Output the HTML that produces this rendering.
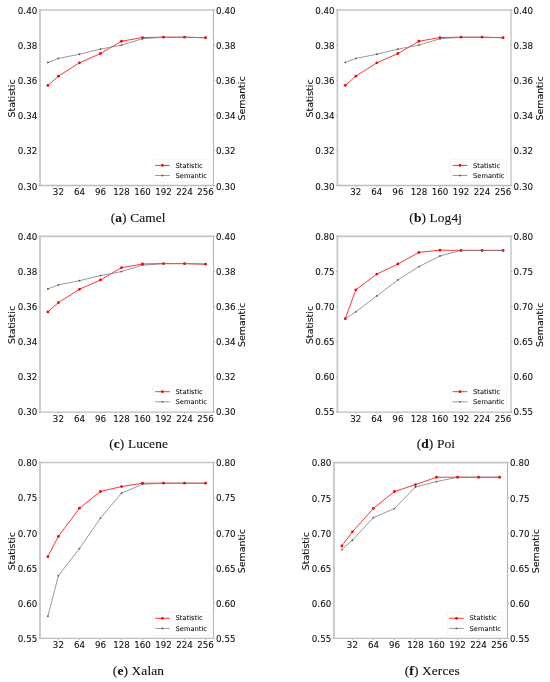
<!DOCTYPE html>
<html><head><meta charset="utf-8"><style>
html,body{margin:0;padding:0;background:#fff;}
body{width:550px;height:682px;overflow:hidden;}
svg{display:block;filter:blur(0.3px);}
.spl{stroke:#c8c8c8;stroke-width:1.8;}
.spr{stroke:#b6b6b6;stroke-width:1.1;}
.spt{stroke:#c4c4c4;stroke-width:1.6;}
.spb{stroke:#bdbdbd;stroke-width:1.4;}
.tk{stroke:#555;stroke-width:0.6;}
.tl{font-family:"DejaVu Sans","Liberation Sans",sans-serif;font-size:8.7px;fill:#111;stroke:#111;stroke-width:0.1;}
.yl{font-family:"DejaVu Sans","Liberation Sans",sans-serif;font-size:9.4px;fill:#111;stroke:#111;stroke-width:0.1;}
.lt{font-family:"DejaVu Sans","Liberation Sans",sans-serif;font-size:6.7px;fill:#111;stroke:#111;stroke-width:0.08;}
.cp{font-family:"Liberation Serif",serif;font-size:13.4px;letter-spacing:0.12px;fill:#111;stroke:#111;stroke-width:0.12;}
.rl{fill:none;stroke:#ff0000;stroke-width:0.8;stroke-linejoin:round;}
.gl{fill:none;stroke:#7f7f7f;stroke-width:0.8;stroke-linejoin:round;}
.rm{fill:#ff0000;}
.gm{fill:#555;}
.lg{fill:#fff;fill-opacity:0.8;stroke:#f0f0f0;stroke-width:0.7;}
</style></head><body>
<svg width="550" height="682" viewBox="0 0 550 682">
<line x1="38.7" y1="185.5" x2="40" y2="185.5" class="tk"/>
<line x1="213.5" y1="185.5" x2="214.8" y2="185.5" class="tk"/>
<line x1="38.7" y1="150.4" x2="40" y2="150.4" class="tk"/>
<line x1="213.5" y1="150.4" x2="214.8" y2="150.4" class="tk"/>
<line x1="38.7" y1="115.3" x2="40" y2="115.3" class="tk"/>
<line x1="213.5" y1="115.3" x2="214.8" y2="115.3" class="tk"/>
<line x1="38.7" y1="80.2" x2="40" y2="80.2" class="tk"/>
<line x1="213.5" y1="80.2" x2="214.8" y2="80.2" class="tk"/>
<line x1="38.7" y1="45.1" x2="40" y2="45.1" class="tk"/>
<line x1="213.5" y1="45.1" x2="214.8" y2="45.1" class="tk"/>
<line x1="38.7" y1="10" x2="40" y2="10" class="tk"/>
<line x1="213.5" y1="10" x2="214.8" y2="10" class="tk"/>
<line x1="58.4" y1="185.5" x2="58.4" y2="186.8" class="tk"/>
<line x1="79.43" y1="185.5" x2="79.43" y2="186.8" class="tk"/>
<line x1="100.46" y1="185.5" x2="100.46" y2="186.8" class="tk"/>
<line x1="121.49" y1="185.5" x2="121.49" y2="186.8" class="tk"/>
<line x1="142.52" y1="185.5" x2="142.52" y2="186.8" class="tk"/>
<line x1="163.55" y1="185.5" x2="163.55" y2="186.8" class="tk"/>
<line x1="184.58" y1="185.5" x2="184.58" y2="186.8" class="tk"/>
<line x1="205.61" y1="185.5" x2="205.61" y2="186.8" class="tk"/>
<line x1="40" y1="9.2" x2="40" y2="186.1" class="spl"/>
<line x1="213.5" y1="9.2" x2="213.5" y2="186.1" class="spr"/>
<line x1="39.1" y1="10" x2="214.05" y2="10" class="spt"/>
<line x1="39.1" y1="185.5" x2="214.05" y2="185.5" class="spb"/>
<text x="37.2" y="189.5" class="tl" text-anchor="end">0.30</text>
<text x="216.1" y="189.5" class="tl">0.30</text>
<text x="37.2" y="154.4" class="tl" text-anchor="end">0.32</text>
<text x="216.1" y="154.4" class="tl">0.32</text>
<text x="37.2" y="119.3" class="tl" text-anchor="end">0.34</text>
<text x="216.1" y="119.3" class="tl">0.34</text>
<text x="37.2" y="84.2" class="tl" text-anchor="end">0.36</text>
<text x="216.1" y="84.2" class="tl">0.36</text>
<text x="37.2" y="49.1" class="tl" text-anchor="end">0.38</text>
<text x="216.1" y="49.1" class="tl">0.38</text>
<text x="37.2" y="14" class="tl" text-anchor="end">0.40</text>
<text x="216.1" y="14" class="tl">0.40</text>
<text x="58.4" y="195.2" class="tl" text-anchor="middle">32</text>
<text x="79.43" y="195.2" class="tl" text-anchor="middle">64</text>
<text x="100.46" y="195.2" class="tl" text-anchor="middle">96</text>
<text x="121.49" y="195.2" class="tl" text-anchor="middle">128</text>
<text x="142.52" y="195.2" class="tl" text-anchor="middle">160</text>
<text x="163.55" y="195.2" class="tl" text-anchor="middle">192</text>
<text x="184.58" y="195.2" class="tl" text-anchor="middle">224</text>
<text x="205.61" y="195.2" class="tl" text-anchor="middle">256</text>
<text transform="translate(15.3,98.45) rotate(-90)" class="yl" text-anchor="middle">Statistic</text>
<text transform="translate(245.4,98.45) rotate(-90)" class="yl" text-anchor="middle">Semantic</text>
<polyline points="47.89,85.47 58.4,76.16 79.43,62.83 100.46,53.52 121.49,41.24 142.52,37.55 163.55,37.2 184.58,37.2 205.61,37.73" class="rl"/>
<polyline points="47.89,62.47 58.4,58.44 79.43,54.23 100.46,49.14 121.49,45.1 142.52,38.78 163.55,37.2 184.58,37.2 205.61,37.73" class="gl"/>
<circle cx="47.89" cy="85.47" r="1.4" class="rm"/>
<circle cx="58.4" cy="76.16" r="1.4" class="rm"/>
<circle cx="79.43" cy="62.83" r="1.4" class="rm"/>
<circle cx="100.46" cy="53.52" r="1.4" class="rm"/>
<circle cx="121.49" cy="41.24" r="1.4" class="rm"/>
<circle cx="142.52" cy="37.55" r="1.4" class="rm"/>
<circle cx="163.55" cy="37.2" r="1.4" class="rm"/>
<circle cx="184.58" cy="37.2" r="1.4" class="rm"/>
<circle cx="205.61" cy="37.73" r="1.4" class="rm"/>
<circle cx="47.89" cy="62.47" r="0.9" class="gm"/>
<circle cx="58.4" cy="58.44" r="0.9" class="gm"/>
<circle cx="79.43" cy="54.23" r="0.9" class="gm"/>
<circle cx="100.46" cy="49.14" r="0.9" class="gm"/>
<circle cx="121.49" cy="45.1" r="0.9" class="gm"/>
<circle cx="142.52" cy="38.78" r="0.9" class="gm"/>
<circle cx="163.55" cy="37.2" r="0.9" class="gm"/>
<circle cx="184.58" cy="37.2" r="0.9" class="gm"/>
<circle cx="205.61" cy="37.73" r="0.9" class="gm"/>
<rect x="153.2" y="159.5" width="55.7" height="23.2" rx="1.2" class="lg"/>
<line x1="155.1" y1="165.4" x2="169.8" y2="165.4" class="rl"/>
<circle cx="162.45" cy="165.4" r="1.4" class="rm"/>
<line x1="155.1" y1="175.5" x2="169.8" y2="175.5" class="gl"/>
<circle cx="162.45" cy="175.5" r="0.9" class="gm"/>
<text x="175.6" y="167.5" class="lt">Statistic</text>
<text x="175.6" y="177.6" class="lt">Semantic</text>
<text x="138.2" y="221.8" class="cp" text-anchor="middle">(<tspan font-weight="bold">a</tspan>) Camel</text>
<line x1="336.1" y1="185.5" x2="337.4" y2="185.5" class="tk"/>
<line x1="511" y1="185.5" x2="512.3" y2="185.5" class="tk"/>
<line x1="336.1" y1="150.4" x2="337.4" y2="150.4" class="tk"/>
<line x1="511" y1="150.4" x2="512.3" y2="150.4" class="tk"/>
<line x1="336.1" y1="115.3" x2="337.4" y2="115.3" class="tk"/>
<line x1="511" y1="115.3" x2="512.3" y2="115.3" class="tk"/>
<line x1="336.1" y1="80.2" x2="337.4" y2="80.2" class="tk"/>
<line x1="511" y1="80.2" x2="512.3" y2="80.2" class="tk"/>
<line x1="336.1" y1="45.1" x2="337.4" y2="45.1" class="tk"/>
<line x1="511" y1="45.1" x2="512.3" y2="45.1" class="tk"/>
<line x1="336.1" y1="10" x2="337.4" y2="10" class="tk"/>
<line x1="511" y1="10" x2="512.3" y2="10" class="tk"/>
<line x1="355.81" y1="185.5" x2="355.81" y2="186.8" class="tk"/>
<line x1="376.85" y1="185.5" x2="376.85" y2="186.8" class="tk"/>
<line x1="397.9" y1="185.5" x2="397.9" y2="186.8" class="tk"/>
<line x1="418.94" y1="185.5" x2="418.94" y2="186.8" class="tk"/>
<line x1="439.98" y1="185.5" x2="439.98" y2="186.8" class="tk"/>
<line x1="461.02" y1="185.5" x2="461.02" y2="186.8" class="tk"/>
<line x1="482.07" y1="185.5" x2="482.07" y2="186.8" class="tk"/>
<line x1="503.11" y1="185.5" x2="503.11" y2="186.8" class="tk"/>
<line x1="337.4" y1="9.2" x2="337.4" y2="186.1" class="spl"/>
<line x1="511" y1="9.2" x2="511" y2="186.1" class="spr"/>
<line x1="336.5" y1="10" x2="511.55" y2="10" class="spt"/>
<line x1="336.5" y1="185.5" x2="511.55" y2="185.5" class="spb"/>
<text x="334.6" y="189.5" class="tl" text-anchor="end">0.30</text>
<text x="513.6" y="189.5" class="tl">0.30</text>
<text x="334.6" y="154.4" class="tl" text-anchor="end">0.32</text>
<text x="513.6" y="154.4" class="tl">0.32</text>
<text x="334.6" y="119.3" class="tl" text-anchor="end">0.34</text>
<text x="513.6" y="119.3" class="tl">0.34</text>
<text x="334.6" y="84.2" class="tl" text-anchor="end">0.36</text>
<text x="513.6" y="84.2" class="tl">0.36</text>
<text x="334.6" y="49.1" class="tl" text-anchor="end">0.38</text>
<text x="513.6" y="49.1" class="tl">0.38</text>
<text x="334.6" y="14" class="tl" text-anchor="end">0.40</text>
<text x="513.6" y="14" class="tl">0.40</text>
<text x="355.81" y="195.2" class="tl" text-anchor="middle">32</text>
<text x="376.85" y="195.2" class="tl" text-anchor="middle">64</text>
<text x="397.9" y="195.2" class="tl" text-anchor="middle">96</text>
<text x="418.94" y="195.2" class="tl" text-anchor="middle">128</text>
<text x="439.98" y="195.2" class="tl" text-anchor="middle">160</text>
<text x="461.02" y="195.2" class="tl" text-anchor="middle">192</text>
<text x="482.07" y="195.2" class="tl" text-anchor="middle">224</text>
<text x="503.11" y="195.2" class="tl" text-anchor="middle">256</text>
<text transform="translate(312.7,98.45) rotate(-90)" class="yl" text-anchor="middle">Statistic</text>
<text transform="translate(542.9,98.45) rotate(-90)" class="yl" text-anchor="middle">Semantic</text>
<polyline points="345.29,85.47 355.81,76.16 376.85,62.83 397.9,53.52 418.94,41.24 439.98,37.55 461.02,37.2 482.07,37.2 503.11,37.73" class="rl"/>
<polyline points="345.29,62.47 355.81,58.44 376.85,54.23 397.9,49.14 418.94,45.1 439.98,38.78 461.02,37.2 482.07,37.2 503.11,37.73" class="gl"/>
<circle cx="345.29" cy="85.47" r="1.4" class="rm"/>
<circle cx="355.81" cy="76.16" r="1.4" class="rm"/>
<circle cx="376.85" cy="62.83" r="1.4" class="rm"/>
<circle cx="397.9" cy="53.52" r="1.4" class="rm"/>
<circle cx="418.94" cy="41.24" r="1.4" class="rm"/>
<circle cx="439.98" cy="37.55" r="1.4" class="rm"/>
<circle cx="461.02" cy="37.2" r="1.4" class="rm"/>
<circle cx="482.07" cy="37.2" r="1.4" class="rm"/>
<circle cx="503.11" cy="37.73" r="1.4" class="rm"/>
<circle cx="345.29" cy="62.47" r="0.9" class="gm"/>
<circle cx="355.81" cy="58.44" r="0.9" class="gm"/>
<circle cx="376.85" cy="54.23" r="0.9" class="gm"/>
<circle cx="397.9" cy="49.14" r="0.9" class="gm"/>
<circle cx="418.94" cy="45.1" r="0.9" class="gm"/>
<circle cx="439.98" cy="38.78" r="0.9" class="gm"/>
<circle cx="461.02" cy="37.2" r="0.9" class="gm"/>
<circle cx="482.07" cy="37.2" r="0.9" class="gm"/>
<circle cx="503.11" cy="37.73" r="0.9" class="gm"/>
<rect x="450.7" y="159.5" width="55.7" height="23.2" rx="1.2" class="lg"/>
<line x1="452.6" y1="165.4" x2="467.3" y2="165.4" class="rl"/>
<circle cx="459.95" cy="165.4" r="1.4" class="rm"/>
<line x1="452.6" y1="175.5" x2="467.3" y2="175.5" class="gl"/>
<circle cx="459.95" cy="175.5" r="0.9" class="gm"/>
<text x="473.1" y="167.5" class="lt">Statistic</text>
<text x="473.1" y="177.6" class="lt">Semantic</text>
<text x="435.7" y="221.8" class="cp" text-anchor="middle">(<tspan font-weight="bold">b</tspan>) Log4j</text>
<line x1="38.7" y1="412.1" x2="40" y2="412.1" class="tk"/>
<line x1="213.5" y1="412.1" x2="214.8" y2="412.1" class="tk"/>
<line x1="38.7" y1="376.96" x2="40" y2="376.96" class="tk"/>
<line x1="213.5" y1="376.96" x2="214.8" y2="376.96" class="tk"/>
<line x1="38.7" y1="341.82" x2="40" y2="341.82" class="tk"/>
<line x1="213.5" y1="341.82" x2="214.8" y2="341.82" class="tk"/>
<line x1="38.7" y1="306.68" x2="40" y2="306.68" class="tk"/>
<line x1="213.5" y1="306.68" x2="214.8" y2="306.68" class="tk"/>
<line x1="38.7" y1="271.54" x2="40" y2="271.54" class="tk"/>
<line x1="213.5" y1="271.54" x2="214.8" y2="271.54" class="tk"/>
<line x1="38.7" y1="236.4" x2="40" y2="236.4" class="tk"/>
<line x1="213.5" y1="236.4" x2="214.8" y2="236.4" class="tk"/>
<line x1="58.4" y1="412.1" x2="58.4" y2="413.4" class="tk"/>
<line x1="79.43" y1="412.1" x2="79.43" y2="413.4" class="tk"/>
<line x1="100.46" y1="412.1" x2="100.46" y2="413.4" class="tk"/>
<line x1="121.49" y1="412.1" x2="121.49" y2="413.4" class="tk"/>
<line x1="142.52" y1="412.1" x2="142.52" y2="413.4" class="tk"/>
<line x1="163.55" y1="412.1" x2="163.55" y2="413.4" class="tk"/>
<line x1="184.58" y1="412.1" x2="184.58" y2="413.4" class="tk"/>
<line x1="205.61" y1="412.1" x2="205.61" y2="413.4" class="tk"/>
<line x1="40" y1="235.6" x2="40" y2="412.7" class="spl"/>
<line x1="213.5" y1="235.6" x2="213.5" y2="412.7" class="spr"/>
<line x1="39.1" y1="236.4" x2="214.05" y2="236.4" class="spt"/>
<line x1="39.1" y1="412.1" x2="214.05" y2="412.1" class="spb"/>
<text x="37.2" y="415.3" class="tl" text-anchor="end">0.30</text>
<text x="216.1" y="415.3" class="tl">0.30</text>
<text x="37.2" y="380.16" class="tl" text-anchor="end">0.32</text>
<text x="216.1" y="380.16" class="tl">0.32</text>
<text x="37.2" y="345.02" class="tl" text-anchor="end">0.34</text>
<text x="216.1" y="345.02" class="tl">0.34</text>
<text x="37.2" y="309.88" class="tl" text-anchor="end">0.36</text>
<text x="216.1" y="309.88" class="tl">0.36</text>
<text x="37.2" y="274.74" class="tl" text-anchor="end">0.38</text>
<text x="216.1" y="274.74" class="tl">0.38</text>
<text x="37.2" y="239.6" class="tl" text-anchor="end">0.40</text>
<text x="216.1" y="239.6" class="tl">0.40</text>
<text x="58.4" y="421.8" class="tl" text-anchor="middle">32</text>
<text x="79.43" y="421.8" class="tl" text-anchor="middle">64</text>
<text x="100.46" y="421.8" class="tl" text-anchor="middle">96</text>
<text x="121.49" y="421.8" class="tl" text-anchor="middle">128</text>
<text x="142.52" y="421.8" class="tl" text-anchor="middle">160</text>
<text x="163.55" y="421.8" class="tl" text-anchor="middle">192</text>
<text x="184.58" y="421.8" class="tl" text-anchor="middle">224</text>
<text x="205.61" y="421.8" class="tl" text-anchor="middle">256</text>
<text transform="translate(15.3,324.95) rotate(-90)" class="yl" text-anchor="middle">Statistic</text>
<text transform="translate(245.4,324.95) rotate(-90)" class="yl" text-anchor="middle">Semantic</text>
<polyline points="47.89,311.95 58.4,302.64 79.43,289.29 100.46,279.97 121.49,267.67 142.52,263.98 163.55,263.63 184.58,263.63 205.61,264.16" class="rl"/>
<polyline points="47.89,288.93 58.4,284.89 79.43,280.68 100.46,275.58 121.49,271.54 142.52,265.21 163.55,263.63 184.58,263.63 205.61,264.16" class="gl"/>
<circle cx="47.89" cy="311.95" r="1.4" class="rm"/>
<circle cx="58.4" cy="302.64" r="1.4" class="rm"/>
<circle cx="79.43" cy="289.29" r="1.4" class="rm"/>
<circle cx="100.46" cy="279.97" r="1.4" class="rm"/>
<circle cx="121.49" cy="267.67" r="1.4" class="rm"/>
<circle cx="142.52" cy="263.98" r="1.4" class="rm"/>
<circle cx="163.55" cy="263.63" r="1.4" class="rm"/>
<circle cx="184.58" cy="263.63" r="1.4" class="rm"/>
<circle cx="205.61" cy="264.16" r="1.4" class="rm"/>
<circle cx="47.89" cy="288.93" r="0.9" class="gm"/>
<circle cx="58.4" cy="284.89" r="0.9" class="gm"/>
<circle cx="79.43" cy="280.68" r="0.9" class="gm"/>
<circle cx="100.46" cy="275.58" r="0.9" class="gm"/>
<circle cx="121.49" cy="271.54" r="0.9" class="gm"/>
<circle cx="142.52" cy="265.21" r="0.9" class="gm"/>
<circle cx="163.55" cy="263.63" r="0.9" class="gm"/>
<circle cx="184.58" cy="263.63" r="0.9" class="gm"/>
<circle cx="205.61" cy="264.16" r="0.9" class="gm"/>
<rect x="153.2" y="385.8" width="55.7" height="23.2" rx="1.2" class="lg"/>
<line x1="155.1" y1="391.7" x2="169.8" y2="391.7" class="rl"/>
<circle cx="162.45" cy="391.7" r="1.4" class="rm"/>
<line x1="155.1" y1="401.8" x2="169.8" y2="401.8" class="gl"/>
<circle cx="162.45" cy="401.8" r="0.9" class="gm"/>
<text x="175.6" y="393.8" class="lt">Statistic</text>
<text x="175.6" y="403.9" class="lt">Semantic</text>
<text x="138.6" y="448.2" class="cp" text-anchor="middle">(<tspan font-weight="bold">c</tspan>) Lucene</text>
<line x1="336.1" y1="412.1" x2="337.4" y2="412.1" class="tk"/>
<line x1="511" y1="412.1" x2="512.3" y2="412.1" class="tk"/>
<line x1="336.1" y1="376.96" x2="337.4" y2="376.96" class="tk"/>
<line x1="511" y1="376.96" x2="512.3" y2="376.96" class="tk"/>
<line x1="336.1" y1="341.82" x2="337.4" y2="341.82" class="tk"/>
<line x1="511" y1="341.82" x2="512.3" y2="341.82" class="tk"/>
<line x1="336.1" y1="306.68" x2="337.4" y2="306.68" class="tk"/>
<line x1="511" y1="306.68" x2="512.3" y2="306.68" class="tk"/>
<line x1="336.1" y1="271.54" x2="337.4" y2="271.54" class="tk"/>
<line x1="511" y1="271.54" x2="512.3" y2="271.54" class="tk"/>
<line x1="336.1" y1="236.4" x2="337.4" y2="236.4" class="tk"/>
<line x1="511" y1="236.4" x2="512.3" y2="236.4" class="tk"/>
<line x1="355.81" y1="412.1" x2="355.81" y2="413.4" class="tk"/>
<line x1="376.85" y1="412.1" x2="376.85" y2="413.4" class="tk"/>
<line x1="397.9" y1="412.1" x2="397.9" y2="413.4" class="tk"/>
<line x1="418.94" y1="412.1" x2="418.94" y2="413.4" class="tk"/>
<line x1="439.98" y1="412.1" x2="439.98" y2="413.4" class="tk"/>
<line x1="461.02" y1="412.1" x2="461.02" y2="413.4" class="tk"/>
<line x1="482.07" y1="412.1" x2="482.07" y2="413.4" class="tk"/>
<line x1="503.11" y1="412.1" x2="503.11" y2="413.4" class="tk"/>
<line x1="337.4" y1="235.6" x2="337.4" y2="412.7" class="spl"/>
<line x1="511" y1="235.6" x2="511" y2="412.7" class="spr"/>
<line x1="336.5" y1="236.4" x2="511.55" y2="236.4" class="spt"/>
<line x1="336.5" y1="412.1" x2="511.55" y2="412.1" class="spb"/>
<text x="334.6" y="415.3" class="tl" text-anchor="end">0.55</text>
<text x="513.6" y="415.3" class="tl">0.55</text>
<text x="334.6" y="380.16" class="tl" text-anchor="end">0.60</text>
<text x="513.6" y="380.16" class="tl">0.60</text>
<text x="334.6" y="345.02" class="tl" text-anchor="end">0.65</text>
<text x="513.6" y="345.02" class="tl">0.65</text>
<text x="334.6" y="309.88" class="tl" text-anchor="end">0.70</text>
<text x="513.6" y="309.88" class="tl">0.70</text>
<text x="334.6" y="274.74" class="tl" text-anchor="end">0.75</text>
<text x="513.6" y="274.74" class="tl">0.75</text>
<text x="334.6" y="239.6" class="tl" text-anchor="end">0.80</text>
<text x="513.6" y="239.6" class="tl">0.80</text>
<text x="355.81" y="421.8" class="tl" text-anchor="middle">32</text>
<text x="376.85" y="421.8" class="tl" text-anchor="middle">64</text>
<text x="397.9" y="421.8" class="tl" text-anchor="middle">96</text>
<text x="418.94" y="421.8" class="tl" text-anchor="middle">128</text>
<text x="439.98" y="421.8" class="tl" text-anchor="middle">160</text>
<text x="461.02" y="421.8" class="tl" text-anchor="middle">192</text>
<text x="482.07" y="421.8" class="tl" text-anchor="middle">224</text>
<text x="503.11" y="421.8" class="tl" text-anchor="middle">256</text>
<text transform="translate(312.7,324.95) rotate(-90)" class="yl" text-anchor="middle">Statistic</text>
<text transform="translate(542.9,324.95) rotate(-90)" class="yl" text-anchor="middle">Semantic</text>
<polyline points="345.29,318.63 355.81,289.81 376.85,274.07 397.9,264.02 418.94,252.42 439.98,250.17 461.02,250.39 482.07,250.39 503.11,250.39" class="rl"/>
<polyline points="345.29,318.63 355.81,311.81 376.85,295.93 397.9,279.9 418.94,266.62 439.98,256.01 461.02,250.39 482.07,250.39 503.11,250.39" class="gl"/>
<circle cx="345.29" cy="318.63" r="1.4" class="rm"/>
<circle cx="355.81" cy="289.81" r="1.4" class="rm"/>
<circle cx="376.85" cy="274.07" r="1.4" class="rm"/>
<circle cx="397.9" cy="264.02" r="1.4" class="rm"/>
<circle cx="418.94" cy="252.42" r="1.4" class="rm"/>
<circle cx="439.98" cy="250.17" r="1.4" class="rm"/>
<circle cx="461.02" cy="250.39" r="1.4" class="rm"/>
<circle cx="482.07" cy="250.39" r="1.4" class="rm"/>
<circle cx="503.11" cy="250.39" r="1.4" class="rm"/>
<circle cx="345.29" cy="318.63" r="0.9" class="gm"/>
<circle cx="355.81" cy="311.81" r="0.9" class="gm"/>
<circle cx="376.85" cy="295.93" r="0.9" class="gm"/>
<circle cx="397.9" cy="279.9" r="0.9" class="gm"/>
<circle cx="418.94" cy="266.62" r="0.9" class="gm"/>
<circle cx="439.98" cy="256.01" r="0.9" class="gm"/>
<circle cx="461.02" cy="250.39" r="0.9" class="gm"/>
<circle cx="482.07" cy="250.39" r="0.9" class="gm"/>
<circle cx="503.11" cy="250.39" r="0.9" class="gm"/>
<rect x="450.7" y="385.8" width="55.7" height="23.2" rx="1.2" class="lg"/>
<line x1="452.6" y1="391.7" x2="467.3" y2="391.7" class="rl"/>
<circle cx="459.95" cy="391.7" r="1.4" class="rm"/>
<line x1="452.6" y1="401.8" x2="467.3" y2="401.8" class="gl"/>
<circle cx="459.95" cy="401.8" r="0.9" class="gm"/>
<text x="473.1" y="393.8" class="lt">Statistic</text>
<text x="473.1" y="403.9" class="lt">Semantic</text>
<text x="435.9" y="448.2" class="cp" text-anchor="middle">(<tspan font-weight="bold">d</tspan>) Poi</text>
<line x1="38.7" y1="638.4" x2="40" y2="638.4" class="tk"/>
<line x1="213.5" y1="638.4" x2="214.8" y2="638.4" class="tk"/>
<line x1="38.7" y1="603.22" x2="40" y2="603.22" class="tk"/>
<line x1="213.5" y1="603.22" x2="214.8" y2="603.22" class="tk"/>
<line x1="38.7" y1="568.04" x2="40" y2="568.04" class="tk"/>
<line x1="213.5" y1="568.04" x2="214.8" y2="568.04" class="tk"/>
<line x1="38.7" y1="532.86" x2="40" y2="532.86" class="tk"/>
<line x1="213.5" y1="532.86" x2="214.8" y2="532.86" class="tk"/>
<line x1="38.7" y1="497.68" x2="40" y2="497.68" class="tk"/>
<line x1="213.5" y1="497.68" x2="214.8" y2="497.68" class="tk"/>
<line x1="38.7" y1="462.5" x2="40" y2="462.5" class="tk"/>
<line x1="213.5" y1="462.5" x2="214.8" y2="462.5" class="tk"/>
<line x1="58.4" y1="638.4" x2="58.4" y2="639.7" class="tk"/>
<line x1="79.43" y1="638.4" x2="79.43" y2="639.7" class="tk"/>
<line x1="100.46" y1="638.4" x2="100.46" y2="639.7" class="tk"/>
<line x1="121.49" y1="638.4" x2="121.49" y2="639.7" class="tk"/>
<line x1="142.52" y1="638.4" x2="142.52" y2="639.7" class="tk"/>
<line x1="163.55" y1="638.4" x2="163.55" y2="639.7" class="tk"/>
<line x1="184.58" y1="638.4" x2="184.58" y2="639.7" class="tk"/>
<line x1="205.61" y1="638.4" x2="205.61" y2="639.7" class="tk"/>
<line x1="40" y1="461.7" x2="40" y2="639" class="spl"/>
<line x1="213.5" y1="461.7" x2="213.5" y2="639" class="spr"/>
<line x1="39.1" y1="462.5" x2="214.05" y2="462.5" class="spt"/>
<line x1="39.1" y1="638.4" x2="214.05" y2="638.4" class="spb"/>
<text x="37.2" y="642.2" class="tl" text-anchor="end">0.55</text>
<text x="216.1" y="642.2" class="tl">0.55</text>
<text x="37.2" y="607.02" class="tl" text-anchor="end">0.60</text>
<text x="216.1" y="607.02" class="tl">0.60</text>
<text x="37.2" y="571.84" class="tl" text-anchor="end">0.65</text>
<text x="216.1" y="571.84" class="tl">0.65</text>
<text x="37.2" y="536.66" class="tl" text-anchor="end">0.70</text>
<text x="216.1" y="536.66" class="tl">0.70</text>
<text x="37.2" y="501.48" class="tl" text-anchor="end">0.75</text>
<text x="216.1" y="501.48" class="tl">0.75</text>
<text x="37.2" y="466.3" class="tl" text-anchor="end">0.80</text>
<text x="216.1" y="466.3" class="tl">0.80</text>
<text x="58.4" y="648.1" class="tl" text-anchor="middle">32</text>
<text x="79.43" y="648.1" class="tl" text-anchor="middle">64</text>
<text x="100.46" y="648.1" class="tl" text-anchor="middle">96</text>
<text x="121.49" y="648.1" class="tl" text-anchor="middle">128</text>
<text x="142.52" y="648.1" class="tl" text-anchor="middle">160</text>
<text x="163.55" y="648.1" class="tl" text-anchor="middle">192</text>
<text x="184.58" y="648.1" class="tl" text-anchor="middle">224</text>
<text x="205.61" y="648.1" class="tl" text-anchor="middle">256</text>
<text transform="translate(15.3,551.15) rotate(-90)" class="yl" text-anchor="middle">Statistic</text>
<text transform="translate(245.4,551.15) rotate(-90)" class="yl" text-anchor="middle">Semantic</text>
<polyline points="47.89,556.64 58.4,536.38 79.43,508.16 100.46,491.49 121.49,486.56 142.52,483.19 163.55,483.19 184.58,483.19 205.61,483.19" class="rl"/>
<polyline points="47.89,616.24 58.4,575.64 79.43,548.55 100.46,518.15 121.49,493.18 142.52,484.31 163.55,483.19 184.58,483.19 205.61,483.19" class="gl"/>
<circle cx="47.89" cy="556.64" r="1.4" class="rm"/>
<circle cx="58.4" cy="536.38" r="1.4" class="rm"/>
<circle cx="79.43" cy="508.16" r="1.4" class="rm"/>
<circle cx="100.46" cy="491.49" r="1.4" class="rm"/>
<circle cx="121.49" cy="486.56" r="1.4" class="rm"/>
<circle cx="142.52" cy="483.19" r="1.4" class="rm"/>
<circle cx="163.55" cy="483.19" r="1.4" class="rm"/>
<circle cx="184.58" cy="483.19" r="1.4" class="rm"/>
<circle cx="205.61" cy="483.19" r="1.4" class="rm"/>
<circle cx="47.89" cy="616.24" r="0.9" class="gm"/>
<circle cx="58.4" cy="575.64" r="0.9" class="gm"/>
<circle cx="79.43" cy="548.55" r="0.9" class="gm"/>
<circle cx="100.46" cy="518.15" r="0.9" class="gm"/>
<circle cx="121.49" cy="493.18" r="0.9" class="gm"/>
<circle cx="142.52" cy="484.31" r="0.9" class="gm"/>
<circle cx="163.55" cy="483.19" r="0.9" class="gm"/>
<circle cx="184.58" cy="483.19" r="0.9" class="gm"/>
<circle cx="205.61" cy="483.19" r="0.9" class="gm"/>
<rect x="153.2" y="612.4" width="55.7" height="23.2" rx="1.2" class="lg"/>
<line x1="155.1" y1="618.3" x2="169.8" y2="618.3" class="rl"/>
<circle cx="162.45" cy="618.3" r="1.4" class="rm"/>
<line x1="155.1" y1="628.4" x2="169.8" y2="628.4" class="gl"/>
<circle cx="162.45" cy="628.4" r="0.9" class="gm"/>
<text x="175.6" y="620.4" class="lt">Statistic</text>
<text x="175.6" y="630.5" class="lt">Semantic</text>
<text x="138.5" y="674.9" class="cp" text-anchor="middle">(<tspan font-weight="bold">e</tspan>) Xalan</text>
<line x1="332.7" y1="638.4" x2="334" y2="638.4" class="tk"/>
<line x1="507.5" y1="638.4" x2="508.8" y2="638.4" class="tk"/>
<line x1="332.7" y1="603.24" x2="334" y2="603.24" class="tk"/>
<line x1="507.5" y1="603.24" x2="508.8" y2="603.24" class="tk"/>
<line x1="332.7" y1="568.08" x2="334" y2="568.08" class="tk"/>
<line x1="507.5" y1="568.08" x2="508.8" y2="568.08" class="tk"/>
<line x1="332.7" y1="532.92" x2="334" y2="532.92" class="tk"/>
<line x1="507.5" y1="532.92" x2="508.8" y2="532.92" class="tk"/>
<line x1="332.7" y1="497.76" x2="334" y2="497.76" class="tk"/>
<line x1="507.5" y1="497.76" x2="508.8" y2="497.76" class="tk"/>
<line x1="332.7" y1="462.6" x2="334" y2="462.6" class="tk"/>
<line x1="507.5" y1="462.6" x2="508.8" y2="462.6" class="tk"/>
<line x1="352.4" y1="638.4" x2="352.4" y2="639.7" class="tk"/>
<line x1="373.43" y1="638.4" x2="373.43" y2="639.7" class="tk"/>
<line x1="394.46" y1="638.4" x2="394.46" y2="639.7" class="tk"/>
<line x1="415.49" y1="638.4" x2="415.49" y2="639.7" class="tk"/>
<line x1="436.52" y1="638.4" x2="436.52" y2="639.7" class="tk"/>
<line x1="457.55" y1="638.4" x2="457.55" y2="639.7" class="tk"/>
<line x1="478.58" y1="638.4" x2="478.58" y2="639.7" class="tk"/>
<line x1="499.61" y1="638.4" x2="499.61" y2="639.7" class="tk"/>
<line x1="334" y1="461.8" x2="334" y2="639" class="spl"/>
<line x1="507.5" y1="461.8" x2="507.5" y2="639" class="spr"/>
<line x1="333.1" y1="462.6" x2="508.05" y2="462.6" class="spt"/>
<line x1="333.1" y1="638.4" x2="508.05" y2="638.4" class="spb"/>
<text x="331.2" y="642.2" class="tl" text-anchor="end">0.55</text>
<text x="510.1" y="642.2" class="tl">0.55</text>
<text x="331.2" y="607.04" class="tl" text-anchor="end">0.60</text>
<text x="510.1" y="607.04" class="tl">0.60</text>
<text x="331.2" y="571.88" class="tl" text-anchor="end">0.65</text>
<text x="510.1" y="571.88" class="tl">0.65</text>
<text x="331.2" y="536.72" class="tl" text-anchor="end">0.70</text>
<text x="510.1" y="536.72" class="tl">0.70</text>
<text x="331.2" y="501.56" class="tl" text-anchor="end">0.75</text>
<text x="510.1" y="501.56" class="tl">0.75</text>
<text x="331.2" y="466.4" class="tl" text-anchor="end">0.80</text>
<text x="510.1" y="466.4" class="tl">0.80</text>
<text x="352.4" y="648.1" class="tl" text-anchor="middle">32</text>
<text x="373.43" y="648.1" class="tl" text-anchor="middle">64</text>
<text x="394.46" y="648.1" class="tl" text-anchor="middle">96</text>
<text x="415.49" y="648.1" class="tl" text-anchor="middle">128</text>
<text x="436.52" y="648.1" class="tl" text-anchor="middle">160</text>
<text x="457.55" y="648.1" class="tl" text-anchor="middle">192</text>
<text x="478.58" y="648.1" class="tl" text-anchor="middle">224</text>
<text x="499.61" y="648.1" class="tl" text-anchor="middle">256</text>
<text transform="translate(309.3,551.2) rotate(-90)" class="yl" text-anchor="middle">Statistic</text>
<text transform="translate(539.4,551.2) rotate(-90)" class="yl" text-anchor="middle">Semantic</text>
<polyline points="341.89,546 352.4,531.87 373.43,508.31 394.46,491.5 415.49,484.61 436.52,477.23 457.55,477.23 478.58,477.23 499.61,477.23" class="rl"/>
<polyline points="341.89,549.59 352.4,540.23 373.43,517.59 394.46,508.59 415.49,487 436.52,481.59 457.55,477.23 478.58,477.23 499.61,477.23" class="gl"/>
<circle cx="341.89" cy="546" r="1.4" class="rm"/>
<circle cx="352.4" cy="531.87" r="1.4" class="rm"/>
<circle cx="373.43" cy="508.31" r="1.4" class="rm"/>
<circle cx="394.46" cy="491.5" r="1.4" class="rm"/>
<circle cx="415.49" cy="484.61" r="1.4" class="rm"/>
<circle cx="436.52" cy="477.23" r="1.4" class="rm"/>
<circle cx="457.55" cy="477.23" r="1.4" class="rm"/>
<circle cx="478.58" cy="477.23" r="1.4" class="rm"/>
<circle cx="499.61" cy="477.23" r="1.4" class="rm"/>
<circle cx="341.89" cy="549.59" r="0.9" class="gm"/>
<circle cx="352.4" cy="540.23" r="0.9" class="gm"/>
<circle cx="373.43" cy="517.59" r="0.9" class="gm"/>
<circle cx="394.46" cy="508.59" r="0.9" class="gm"/>
<circle cx="415.49" cy="487" r="0.9" class="gm"/>
<circle cx="436.52" cy="481.59" r="0.9" class="gm"/>
<circle cx="457.55" cy="477.23" r="0.9" class="gm"/>
<circle cx="478.58" cy="477.23" r="0.9" class="gm"/>
<circle cx="499.61" cy="477.23" r="0.9" class="gm"/>
<rect x="447.2" y="612.4" width="55.7" height="23.2" rx="1.2" class="lg"/>
<line x1="449.1" y1="618.3" x2="463.8" y2="618.3" class="rl"/>
<circle cx="456.45" cy="618.3" r="1.4" class="rm"/>
<line x1="449.1" y1="628.4" x2="463.8" y2="628.4" class="gl"/>
<circle cx="456.45" cy="628.4" r="0.9" class="gm"/>
<text x="469.6" y="620.4" class="lt">Statistic</text>
<text x="469.6" y="630.5" class="lt">Semantic</text>
<text x="432.3" y="674.9" class="cp" text-anchor="middle">(<tspan font-weight="bold">f</tspan>) Xerces</text>
</svg>
</body></html>
